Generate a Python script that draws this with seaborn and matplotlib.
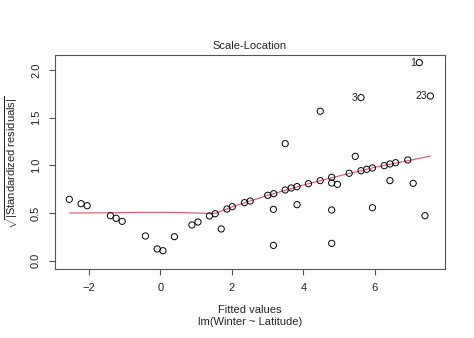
import numpy as np
import pandas as pd
import matplotlib
matplotlib.use("Agg")
import matplotlib.pyplot as plt
import seaborn as sns

# Fitted values and sqrt(|standardized residuals|) of lm(Winter ~ Latitude)
fitted = [-2.55, -2.22, -2.05, -1.40, -1.24, -1.07, -0.42, -0.09, 0.07, 0.39,
          0.88, 1.05, 1.37, 1.53, 1.70, 1.86, 2.01, 2.35, 2.51, 3.00,
          3.17, 3.16, 3.16, 3.49, 3.49, 3.66, 3.82, 3.82, 4.14, 4.47,
          4.47, 4.79, 4.79, 4.95, 4.79, 4.79, 5.28, 5.45, 5.61, 5.61,
          5.77, 5.93, 5.93, 6.26, 6.42, 6.42, 6.58, 6.92, 7.07, 7.24,
          7.40, 7.55]
sqrt_std_resid = [0.644, 0.598, 0.577, 0.472, 0.445, 0.413, 0.259, 0.123, 0.105, 0.252,
                  0.375, 0.406, 0.469, 0.493, 0.333, 0.542, 0.567, 0.609, 0.626, 0.686,
                  0.703, 0.539, 0.161, 1.228, 0.742, 0.763, 0.777, 0.588, 0.808, 1.568,
                  0.840, 0.875, 0.815, 0.801, 0.532, 0.182, 0.917, 1.095, 1.711, 0.944,
                  0.959, 0.973, 0.556, 0.997, 1.015, 0.840, 1.028, 1.057, 0.812, 2.078,
                  0.472, 1.728]
obs_id = ["" for _ in fitted]
obs_id[49] = "1"
obs_id[38] = "3"
obs_id[51] = "23"

# Smoothed trend through the points
smooth_x = [-2.55, -1.5, -0.5, 0.0, 0.5, 1.0, 1.55, 2.0, 3.0, 4.0, 5.0, 6.0, 7.0, 7.55]
smooth_y = [0.500, 0.503, 0.507, 0.508, 0.506, 0.500, 0.497, 0.565, 0.685, 0.794, 0.890, 0.980, 1.055, 1.098]

df = pd.DataFrame({"fitted": fitted, "resid": sqrt_std_resid, "id": obs_id})
smooth = pd.DataFrame({"x": smooth_x, "y": smooth_y})

sns.set_theme(style="ticks")
plt.rcParams["font.family"] = ["Liberation Sans", "DejaVu Sans"]
plt.rcParams["mathtext.fontset"] = "custom"
plt.rcParams["mathtext.rm"] = "Liberation Sans"
plt.rcParams["mathtext.it"] = "Liberation Sans:italic"

fig = plt.figure(figsize=(4.74, 3.38), dpi=100)
ax = fig.add_axes([55 / 474, 1 - 269 / 338, 390 / 474, 214 / 338])

sns.lineplot(data=smooth, x="x", y="y", ax=ax, color="#DF536B", linewidth=0.8,
             sort=False, estimator=None)
sns.scatterplot(data=df, x="fitted", y="resid", ax=ax, marker="o", s=20,
                facecolor="none", edgecolor="black", linewidth=0.7, zorder=3)

for _, r in df[df["id"] != ""].iterrows():
    ax.annotate(r["id"], (r["fitted"], r["resid"]), xytext=(-2.5, 0),
                textcoords="offset points", ha="right", va="center",
                fontsize=7.5, color="#222222")

ax.set_xlim(-2.95, 7.96)
ax.set_ylim(-0.087, 2.158)
ax.set_xticks([-2, 0, 2, 4, 6])
ax.set_yticks([0.0, 0.5, 1.0, 1.5, 2.0])
ax.set_yticklabels(["0.0", "0.5", "1.0", "1.5", "2.0"], rotation=90, va="center")

for s in ax.spines.values():
    s.set_visible(True)
    s.set_color("#555555")
    s.set_linewidth(0.8)

ax.tick_params(axis="both", length=4, width=0.8, color="#555555",
               labelsize=8, labelcolor="#222222", pad=6)

ax.set_xlabel("Fitted values\nlm(Winter ~ Latitude)", fontsize=8, color="#222222",
              labelpad=9, linespacing=1.2)
ax.set_ylabel(r"$\sqrt{\mathrm{|Standardized\ residuals|}}$", fontsize=8,
              color="#222222", labelpad=8)
ax.set_title("Scale-Location", fontsize=8, color="#222222", pad=4)

fig.savefig("out.png", dpi=100, facecolor="white")
